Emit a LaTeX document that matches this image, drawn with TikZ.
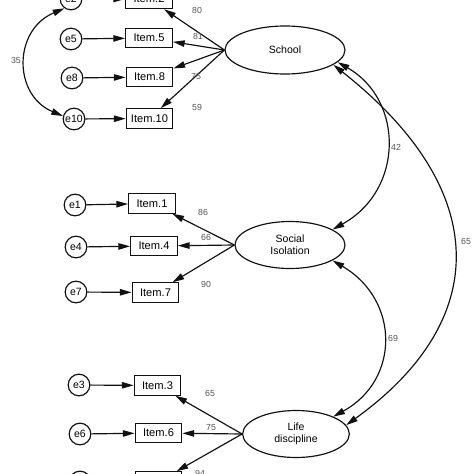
\documentclass[tikz,border=0pt]{standalone}
\usepackage{fontspec}
\setmainfont{Liberation Sans}
\usetikzlibrary{arrows.meta,shapes.geometric}
\definecolor{semInk}{HTML}{111111}
\definecolor{semNum}{HTML}{555555}

\begin{document}
\begin{tikzpicture}[x=0.03cm, y=-0.03cm, line width=1pt, draw=semInk,
  errc/.style={circle, draw, minimum size=0.65cm, inner sep=0pt, font=\fontsize{9}{11}\selectfont},
  itembox/.style={rectangle, draw, minimum width=1.4cm, minimum height=0.58cm, inner sep=0pt, font=\fontsize{9.5}{11}\selectfont},
  latent/.style={ellipse, draw, inner sep=0pt, align=center, font=\fontsize{9}{10.5}\selectfont},
  arr/.style={-{Triangle[length=10pt,width=5.5pt]}},
  dbl/.style={{Triangle[length=10pt,width=5.5pt]}-{Triangle[length=10pt,width=5.5pt]}},
  num/.style={font=\fontsize{7.5}{9}\selectfont, text=semNum, inner sep=0pt}]
  \useasboundingbox (0,0) rectangle (474,474);
  \clip (0,0) rectangle (474,474);

  % latent factors
  \node[latent, minimum width=3.6cm, minimum height=1.44cm] (school) at (285,50) {School};
  \node[latent, minimum width=3.3cm, minimum height=1.41cm] (social) at (290,245) {Social\\Isolation};
  \node[latent, minimum width=3.2cm, minimum height=1.41cm] (life) at (296,434) {Life\\discipline};

  % school items
  \node[itembox] (i2) at (149,-1) {Item.2};
  \node[itembox] (i5) at (149,38) {Item.5};
  \node[itembox] (i8) at (149.5,77) {Item.8};
  \node[itembox] (i10) at (149.5,118.5) {Item.10};
  \node[errc] (e2) at (71,-1) {e2};
  \node[errc] (e5) at (71,39) {e5};
  \node[errc] (e8) at (72,78) {e8};
  \node[errc] (e10) at (74,119) {e10};

  % social isolation items
  \node[itembox] (i1) at (152,203.5) {Item.1};
  \node[itembox] (i4) at (154,246) {Item.4};
  \node[itembox] (i7) at (155.5,292.5) {Item.7};
  \node[errc] (e1) at (75,205) {e1};
  \node[errc] (e4) at (76,247) {e4};
  \node[errc] (e7) at (76,292) {e7};

  % life discipline items
  \node[itembox] (i3) at (157.5,385.5) {Item.3};
  \node[itembox] (i6) at (158.5,433) {Item.6};
  \node[itembox] (i9) at (158.5,481.5) {Item.9};
  \node[errc] (e3) at (79,385) {e3};
  \node[errc] (e6) at (80,434) {e6};
  \node[errc] (e9) at (80,482) {e9};

  % error terms
  \foreach \k in {2,5,8,10,1,4,7,3,6,9}
    \draw[arr] (e\k) -- (i\k);

  % loadings
  \foreach \k in {2,5,8,10}
    \draw[arr] (school.west) -- (i\k);
  \foreach \k in {1,4,7}
    \draw[arr] (social.west) -- (i\k);
  \foreach \k in {3,6,9}
    \draw[arr] (life.west) -- (i\k);

  \node[num] (n80) at (197,10) {80};
  \node[num] (n81) at (198,36) {81};
  \node[num] (n75a) at (196,77) {75};
  \node[num] (n59) at (197,107) {59};
  \node[num] (n86) at (203,212) {86};
  \node[num] (n66) at (206,237) {66};
  \node[num] (n90) at (206,284) {90};
  \node[num] (n65a) at (210,393) {65};
  \node[num] (n75b) at (211,428) {75};
  \node[num] (n94) at (200,473) {94};

  % covariances
  \draw[dbl] (e2.-125) .. controls (13,30) and (13,95) .. (e10.165);
  \node[num] (n35) at (16,60) {35};
  \draw[dbl] (school.-13) .. controls (404,100) and (404,190) .. (social.20);
  \node[num] (n42) at (396,147) {42};
  \draw[dbl] (social.-20) .. controls (400,300) and (400,380) .. (life.25);
  \node[num] (n69) at (393,338) {69};
  \draw[dbl] (school.-17) .. controls (492,190) and (492,320) .. (life.10);
  \node[num] (n65b) at (466,241) {65};
\end{tikzpicture}
\end{document}
